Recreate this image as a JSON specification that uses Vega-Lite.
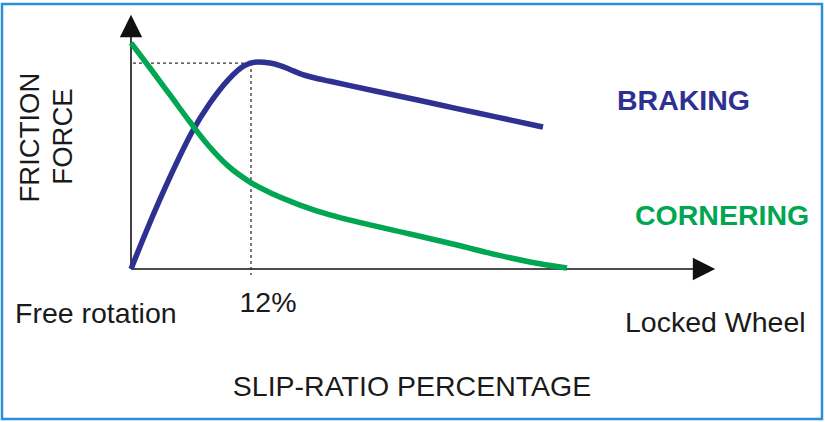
{
  "$schema": "https://vega.github.io/schema/vega-lite/v6.json",
  "width": 825,
  "height": 422,
  "autosize": {"type": "none"},
  "padding": 0,
  "background": "white",
  "config": {"view": {"stroke": null}, "text": {"font": "Liberation Sans"}},
  "datasets": {
    "frame": [{"x": -12.9, "x2": 69.1, "y": 128.0, "y2": -72.5}],
    "axes": [
      {"x": 0, "x2": 0, "y": 0, "y2": 112.1},
      {"x": 0, "x2": 56.2, "y": 0, "y2": 0}
    ],
    "guides": [
      {"x": 0.2, "x2": 12, "y": 99.5, "y2": 99.5},
      {"x": 12, "x2": 12, "y": 99.5, "y2": -2.9}
    ],
    "arrowUp": [{"x": 0, "y": 117.4}],
    "arrowRight": [{"x": 57.3, "y": 0}],
    "curves": [
      {"series": "Braking", "x": 0, "y": 0},
      {"series": "Braking", "x": 1.5, "y": 17.9},
      {"series": "Braking", "x": 3.0, "y": 34.8},
      {"series": "Braking", "x": 4.5, "y": 50.7},
      {"series": "Braking", "x": 6.1, "y": 66.2},
      {"series": "Braking", "x": 7.9, "y": 80.2},
      {"series": "Braking", "x": 9.7, "y": 91.3},
      {"series": "Braking", "x": 11.3, "y": 98.1},
      {"series": "Braking", "x": 12.7, "y": 100},
      {"series": "Braking", "x": 13.9, "y": 99.5},
      {"series": "Braking", "x": 14.9, "y": 98.3},
      {"series": "Braking", "x": 15.9, "y": 96.4},
      {"series": "Braking", "x": 16.9, "y": 94.4},
      {"series": "Braking", "x": 18.2, "y": 92.5},
      {"series": "Braking", "x": 19.9, "y": 90.7},
      {"series": "Braking", "x": 21.9, "y": 88.6},
      {"series": "Braking", "x": 25.6, "y": 84.8},
      {"series": "Braking", "x": 28.9, "y": 81.4},
      {"series": "Braking", "x": 32.6, "y": 77.5},
      {"series": "Braking", "x": 36.6, "y": 73.4},
      {"series": "Braking", "x": 41.2, "y": 68.6},
      {"series": "Cornering", "x": 0, "y": 109.2},
      {"series": "Cornering", "x": 1.9, "y": 97.1},
      {"series": "Cornering", "x": 3.9, "y": 84.1},
      {"series": "Cornering", "x": 5.9, "y": 71.0},
      {"series": "Cornering", "x": 7.7, "y": 59.9},
      {"series": "Cornering", "x": 9.7, "y": 49.8},
      {"series": "Cornering", "x": 11.9, "y": 42.0},
      {"series": "Cornering", "x": 14.2, "y": 36.2},
      {"series": "Cornering", "x": 16.9, "y": 30.9},
      {"series": "Cornering", "x": 19.9, "y": 26.1},
      {"series": "Cornering", "x": 23.9, "y": 21.3},
      {"series": "Cornering", "x": 27.9, "y": 16.9},
      {"series": "Cornering", "x": 32.6, "y": 11.6},
      {"series": "Cornering", "x": 36.6, "y": 6.8},
      {"series": "Cornering", "x": 39.9, "y": 3.4},
      {"series": "Cornering", "x": 43.6, "y": 0.5}
    ],
    "leftLabels": [
      {"x": -11.6, "y": -26.1, "text": "Free rotation"},
      {"x": 49.4, "y": -30.4, "text": "Locked Wheel"}
    ],
    "centerLabels": [
      {"x": 13.7, "y": -20.8, "text": "12%"},
      {"x": 28.1, "y": -61.4, "text": "SLIP-RATIO PERCENTAGE"}
    ],
    "verticalLabels": [
      {"x": -9.2, "y": 63.5, "text": "FRICTION"},
      {"x": -5.9, "y": 64.0, "text": "FORCE"}
    ],
    "seriesLabels": [
      {"series": "Braking", "x": 48.6, "y": 76.8, "text": "BRAKING"},
      {"series": "Cornering", "x": 50.4, "y": 21.3, "text": "CORNERING"}
    ]
  },
  "encoding": {
    "x": {"field": "x", "type": "quantitative", "scale": {"domain": [-13.1, 69.4], "nice": false, "zero": false}, "axis": null},
    "y": {"field": "y", "type": "quantitative", "scale": {"domain": [-73.9, 129.95], "nice": false, "zero": false}, "axis": null}
  },
  "layer": [
    {
      "data": {"name": "frame"},
      "mark": {"type": "rect", "fill": null, "fillOpacity": 0, "stroke": "#2a8fd8", "strokeWidth": 2.5},
      "encoding": {"x2": {"field": "x2"}, "y2": {"field": "y2"}}
    },
    {
      "data": {"name": "axes"},
      "mark": {"type": "rule", "color": "#111111", "strokeWidth": 1.6},
      "encoding": {"x2": {"field": "x2"}, "y2": {"field": "y2"}}
    },
    {
      "data": {"name": "guides"},
      "mark": {"type": "rule", "color": "#333333", "strokeWidth": 1.3, "strokeDash": [3, 3]},
      "encoding": {"x2": {"field": "x2"}, "y2": {"field": "y2"}}
    },
    {
      "data": {"name": "arrowUp"},
      "mark": {"type": "point", "shape": "M-1,1L1,1L0,-1Z", "size": 500, "filled": true, "color": "#111111", "opacity": 1, "strokeWidth": 0}
    },
    {
      "data": {"name": "arrowRight"},
      "mark": {"type": "point", "shape": "M-1,-1L1,0L-1,1Z", "size": 500, "filled": true, "color": "#111111", "opacity": 1, "strokeWidth": 0}
    },
    {
      "data": {"name": "curves"},
      "mark": {"type": "line", "strokeWidth": 5.5, "interpolate": "monotone"},
      "encoding": {
        "color": {"field": "series", "type": "nominal", "scale": {"domain": ["Braking", "Cornering"], "range": ["#2e3192", "#00a651"]}, "legend": null}
      }
    },
    {
      "data": {"name": "leftLabels"},
      "mark": {"type": "text", "align": "left", "baseline": "alphabetic", "fontSize": 28.5, "color": "#1a1a1a"},
      "encoding": {"text": {"field": "text"}}
    },
    {
      "data": {"name": "centerLabels"},
      "mark": {"type": "text", "align": "center", "baseline": "alphabetic", "fontSize": 28.5, "color": "#1a1a1a"},
      "encoding": {"text": {"field": "text"}}
    },
    {
      "data": {"name": "verticalLabels"},
      "mark": {"type": "text", "align": "center", "baseline": "alphabetic", "angle": 270, "fontSize": 27.5, "color": "#1a1a1a"},
      "encoding": {"text": {"field": "text"}}
    },
    {
      "data": {"name": "seriesLabels"},
      "mark": {"type": "text", "align": "left", "baseline": "alphabetic", "fontSize": 28.5, "fontWeight": "bold"},
      "encoding": {
        "text": {"field": "text"},
        "color": {"field": "series", "type": "nominal", "legend": null}
      }
    }
  ]
}
